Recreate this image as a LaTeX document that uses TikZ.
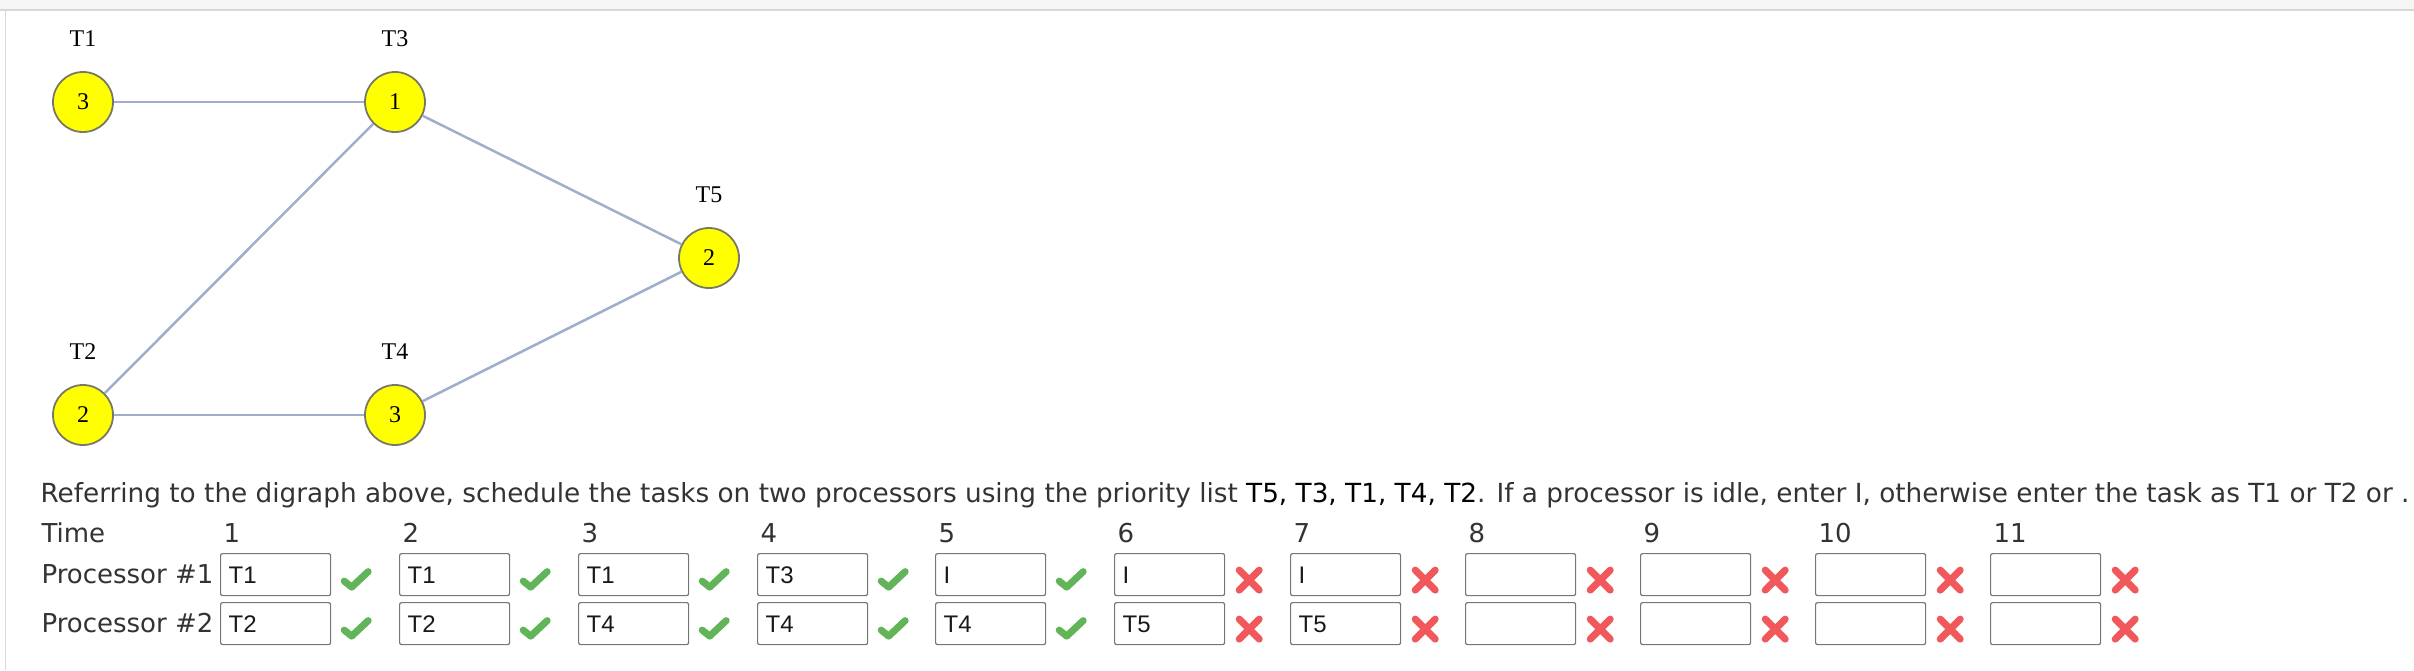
\documentclass[tikz,border=0pt]{standalone}
\usepackage{fontspec}
\setmainfont{DejaVu Sans}
\newfontfamily\taskfont{Liberation Serif}
\newfontfamily\fieldfont{Liberation Sans}

\definecolor{taskyellow}{RGB}{255,255,0}
\definecolor{taskborder}{RGB}{120,120,105}
\definecolor{depblue}{RGB}{160,174,202}
\definecolor{txtgray}{RGB}{51,51,51}
\definecolor{fieldborder}{RGB}{118,118,118}
\definecolor{okgreen}{RGB}{98,180,88}
\definecolor{badred}{RGB}{240,88,92}
\definecolor{pagegray}{RGB}{245,245,245}
\definecolor{pageline}{RGB}{216,216,216}

\tikzset{
  task/.style={circle, draw=taskborder, line width=1.8pt, fill=taskyellow,
    minimum size=60pt, inner sep=0pt, font=\taskfont\fontsize{24}{24}\selectfont},
  tasklabel/.style={anchor=base, font=\taskfont\fontsize{24}{24}\selectfont, text=black},
  dep/.style={draw=depblue, line width=2.5pt},
  prompt/.style={anchor=base west, text=txtgray, font=\fontsize{26}{30}\selectfont},
  field/.style={draw=fieldborder, line width=1.2pt, rounded corners=2pt, anchor=north west,
    minimum width=110pt, minimum height=42pt, text width=94pt, inner xsep=8pt, inner ysep=0pt,
    text height=17pt, text depth=0pt, align=left, text=black!90,
    font=\fieldfont\fontsize{24}{24}\selectfont},
  okpic/.pic={\draw[okgreen, line width=7pt, line cap=round, line join=round]
    (-12,2.5) -- (-4.5,8.5) -- (12,-7);},
  badpic/.pic={\draw[badred, line width=7pt, line cap=round]
    (-10,-8.5) -- (10,11.5) (-10,11.5) -- (10,-8.5);}
}

\begin{document}
\begin{tikzpicture}[x=1pt, y=-1pt]
  \useasboundingbox (0,0) rectangle (2414,670);
  %page frame
  \fill[pagegray] (0,0) rectangle (2414,10);
  \draw[pageline, line width=1.5pt] (0,10) -- (2414,10);
  \draw[pageline, line width=1.5pt] (5.5,10) -- (5.5,670);

  %tasks
  \node[task] (t1) at (83,102) {3};
  \node[tasklabel] (t1lab) at (83,46) {T1};
  \node[task] (t3) at (395,102) {1};
  \node[tasklabel] (t3lab) at (395,46) {T3};
  \node[task] (t5) at (709,258) {2};
  \node[tasklabel] (t5lab) at (709,202) {T5};
  \node[task] (t2) at (83,415) {2};
  \node[tasklabel] (t2lab) at (83,359) {T2};
  \node[task] (t4) at (395,415) {3};
  \node[tasklabel] (t4lab) at (395,359) {T4};

  %edges
  \draw[dep] (t1) -- (t3);
  \draw[dep] (t2) -- (t3);
  \draw[dep] (t3) -- (t5);
  \draw[dep] (t2) -- (t4);
  \draw[dep] (t4) -- (t5);

  %question
  \node[prompt, font=\fontsize{26.3}{30}\selectfont] (question) at (37,502) {Referring to the digraph above, schedule the tasks on two processors using the priority list \textcolor{black}{T5, T3, T1, T4, T2}. If a processor is idle, enter I, otherwise enter the task as T1 or T2 or .};

  %schedule
  \node[prompt] (timelab) at (38,542) {Time};
  \node[prompt] (proc1lab) at (38,583) {Processor \#1};
  \node[prompt] (proc2lab) at (38,632) {Processor \#2};
  \foreach \x/\a/\b/\ma/\mb [count=\i] in {220/T1/T2/1/1, 399/T1/T2/1/1, 578/T1/T4/1/1,
      757/T3/T4/1/1, 935/I/T4/1/1, 1114/I/T5/0/0, 1290/I/T5/0/0, 1465/{}/{}/0/0,
      1640/{}/{}/0/0, 1815/{}/{}/0/0, 1990/{}/{}/0/0}{
    \node[prompt] (time\i) at (\x,542) {\i};
    \node[field] (pa\i) at (\x,553) {\a};
    \node[field] (pb\i) at (\x,602) {\b};
    \ifnum\ma=1 \path (pa\i.east) ++(25,4) pic {okpic}; \else \path (pa\i.east) ++(24,4) pic {badpic}; \fi
    \ifnum\mb=1 \path (pb\i.east) ++(25,4) pic {okpic}; \else \path (pb\i.east) ++(24,4) pic {badpic}; \fi
  }
\end{tikzpicture}
\end{document}
